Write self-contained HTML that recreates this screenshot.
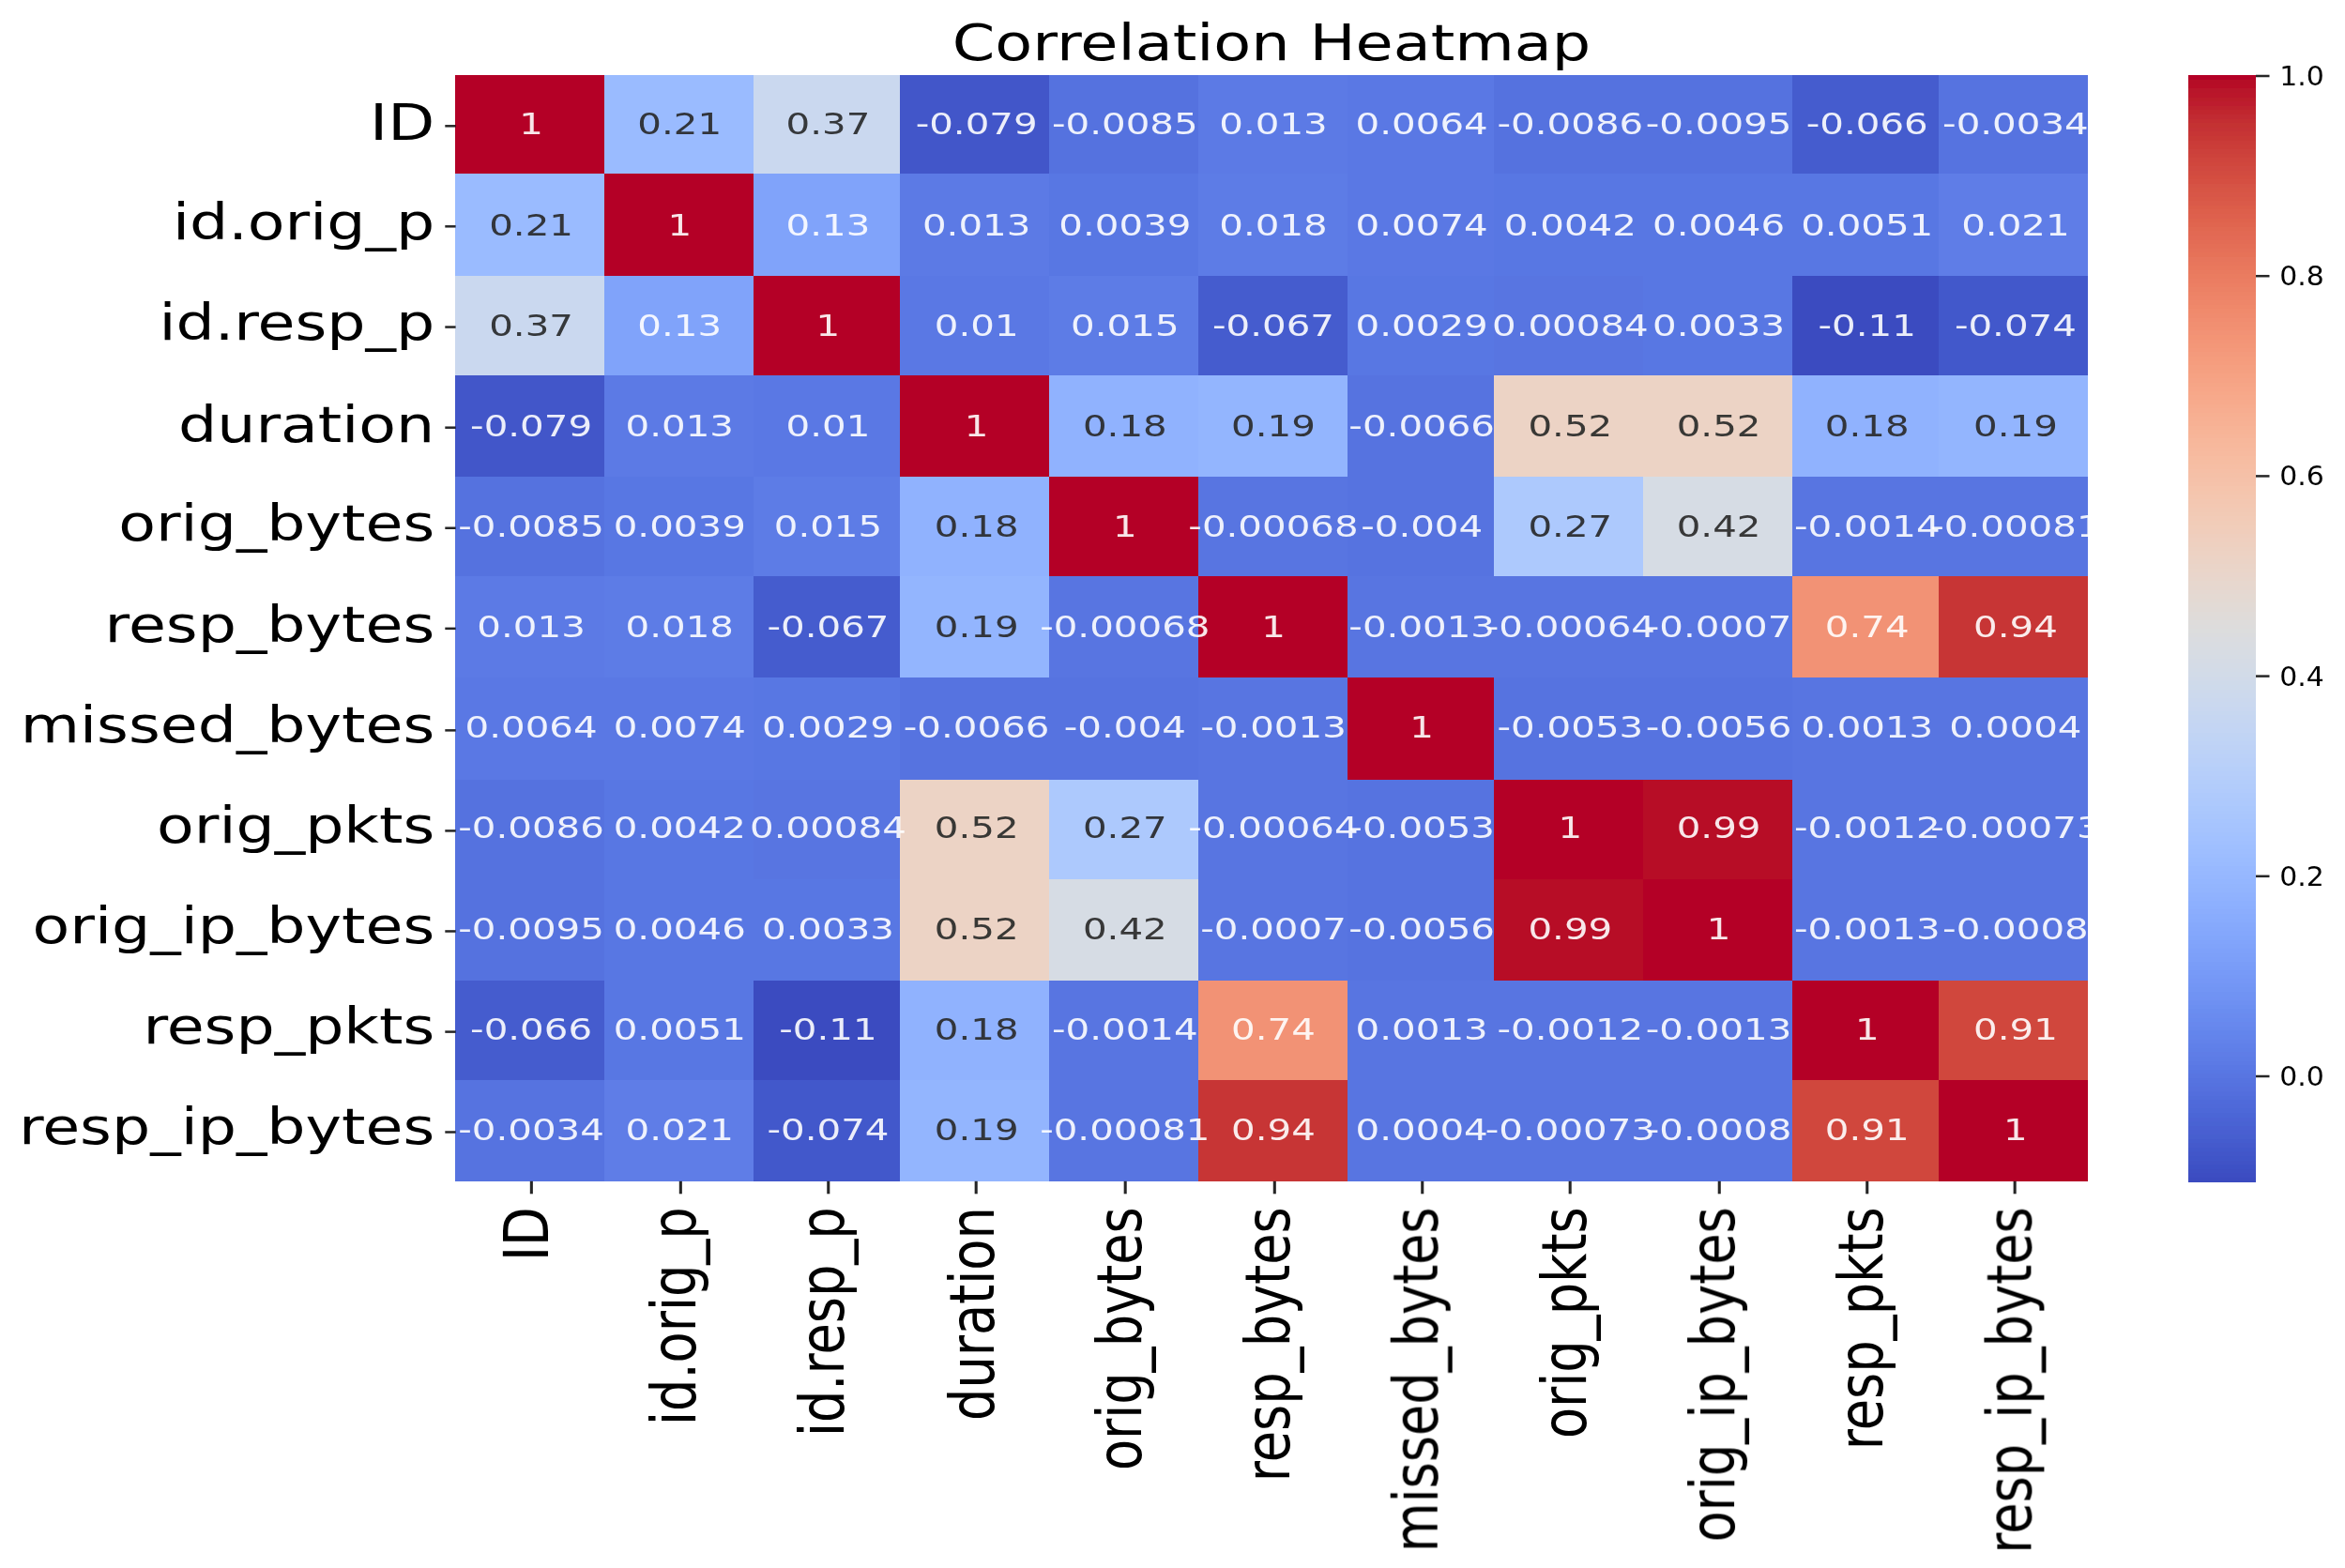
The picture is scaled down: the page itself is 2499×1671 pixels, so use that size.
<!DOCTYPE html>
<html><head><meta charset="utf-8"><title>Correlation Heatmap</title><style>html,body{margin:0;padding:0;background:#fff;overflow:hidden;}svg{display:block;}</style></head><body>
<svg width="2499" height="1671" viewBox="0 0 2499 1671" font-family="'DejaVu Sans', 'Liberation Sans', sans-serif">
<rect width="2499" height="1671" fill="#fff"/>
<defs><filter id="b" x="0" y="0" width="2499" height="1671" filterUnits="userSpaceOnUse"><feGaussianBlur stdDeviation="0.57 0.50"/></filter></defs>
<g filter="url(#b)">
<rect width="2499" height="1671" fill="#fff"/>
<g shape-rendering="crispEdges">
<rect x="485.10" y="79.90" width="159.70" height="106.00" fill="#b40426"/>
<rect x="644.20" y="79.90" width="159.45" height="106.00" fill="#9abbff"/>
<rect x="803.05" y="79.90" width="156.65" height="106.00" fill="#cad8ef"/>
<rect x="959.10" y="79.90" width="159.40" height="106.00" fill="#4257c9"/>
<rect x="1117.90" y="79.90" width="159.80" height="106.00" fill="#5572df"/>
<rect x="1277.10" y="79.90" width="159.60" height="106.00" fill="#5b7ae5"/>
<rect x="1436.10" y="79.90" width="156.50" height="106.00" fill="#5a78e4"/>
<rect x="1592.00" y="79.90" width="159.60" height="106.00" fill="#5572df"/>
<rect x="1751.00" y="79.90" width="159.70" height="106.00" fill="#5572df"/>
<rect x="1910.10" y="79.90" width="156.50" height="106.00" fill="#455cce"/>
<rect x="2066.00" y="79.90" width="158.90" height="106.00" fill="#5673e0"/>
<rect x="485.10" y="185.30" width="159.70" height="109.20" fill="#9abbff"/>
<rect x="644.20" y="185.30" width="159.45" height="109.20" fill="#b40426"/>
<rect x="803.05" y="185.30" width="156.65" height="109.20" fill="#80a3fa"/>
<rect x="959.10" y="185.30" width="159.40" height="109.20" fill="#5b7ae5"/>
<rect x="1117.90" y="185.30" width="159.80" height="109.20" fill="#5977e3"/>
<rect x="1277.10" y="185.30" width="159.60" height="109.20" fill="#5d7ce6"/>
<rect x="1436.10" y="185.30" width="156.50" height="109.20" fill="#5a78e4"/>
<rect x="1592.00" y="185.30" width="159.60" height="109.20" fill="#5977e3"/>
<rect x="1751.00" y="185.30" width="159.70" height="109.20" fill="#5977e3"/>
<rect x="1910.10" y="185.30" width="156.50" height="109.20" fill="#5977e3"/>
<rect x="2066.00" y="185.30" width="158.90" height="109.20" fill="#5e7de7"/>
<rect x="485.10" y="293.90" width="159.70" height="106.50" fill="#cad8ef"/>
<rect x="644.20" y="293.90" width="159.45" height="106.50" fill="#80a3fa"/>
<rect x="803.05" y="293.90" width="156.65" height="106.50" fill="#b40426"/>
<rect x="959.10" y="293.90" width="159.40" height="106.50" fill="#5a78e4"/>
<rect x="1117.90" y="293.90" width="159.80" height="106.50" fill="#5d7ce6"/>
<rect x="1277.10" y="293.90" width="159.60" height="106.50" fill="#455cce"/>
<rect x="1436.10" y="293.90" width="156.50" height="106.50" fill="#5977e3"/>
<rect x="1592.00" y="293.90" width="159.60" height="106.50" fill="#5875e1"/>
<rect x="1751.00" y="293.90" width="159.70" height="106.50" fill="#5977e3"/>
<rect x="1910.10" y="293.90" width="156.50" height="106.50" fill="#3b4cc0"/>
<rect x="2066.00" y="293.90" width="158.90" height="106.50" fill="#4358cb"/>
<rect x="485.10" y="399.80" width="159.70" height="109.00" fill="#4257c9"/>
<rect x="644.20" y="399.80" width="159.45" height="109.00" fill="#5b7ae5"/>
<rect x="803.05" y="399.80" width="156.65" height="109.00" fill="#5a78e4"/>
<rect x="959.10" y="399.80" width="159.40" height="109.00" fill="#b40426"/>
<rect x="1117.90" y="399.80" width="159.80" height="109.00" fill="#90b2fe"/>
<rect x="1277.10" y="399.80" width="159.60" height="109.00" fill="#93b5fe"/>
<rect x="1436.10" y="399.80" width="156.50" height="109.00" fill="#5673e0"/>
<rect x="1592.00" y="399.80" width="159.60" height="109.00" fill="#ecd3c5"/>
<rect x="1751.00" y="399.80" width="159.70" height="109.00" fill="#ecd3c5"/>
<rect x="1910.10" y="399.80" width="156.50" height="109.00" fill="#90b2fe"/>
<rect x="2066.00" y="399.80" width="158.90" height="109.00" fill="#93b5fe"/>
<rect x="485.10" y="508.20" width="159.70" height="106.30" fill="#5572df"/>
<rect x="644.20" y="508.20" width="159.45" height="106.30" fill="#5977e3"/>
<rect x="803.05" y="508.20" width="156.65" height="106.30" fill="#5d7ce6"/>
<rect x="959.10" y="508.20" width="159.40" height="106.30" fill="#90b2fe"/>
<rect x="1117.90" y="508.20" width="159.80" height="106.30" fill="#b40426"/>
<rect x="1277.10" y="508.20" width="159.60" height="106.30" fill="#5875e1"/>
<rect x="1436.10" y="508.20" width="156.50" height="106.30" fill="#5673e0"/>
<rect x="1592.00" y="508.20" width="159.60" height="106.30" fill="#adc9fd"/>
<rect x="1751.00" y="508.20" width="159.70" height="106.30" fill="#d6dce4"/>
<rect x="1910.10" y="508.20" width="156.50" height="106.30" fill="#5875e1"/>
<rect x="2066.00" y="508.20" width="158.90" height="106.30" fill="#5875e1"/>
<rect x="485.10" y="613.90" width="159.70" height="109.10" fill="#5b7ae5"/>
<rect x="644.20" y="613.90" width="159.45" height="109.10" fill="#5d7ce6"/>
<rect x="803.05" y="613.90" width="156.65" height="109.10" fill="#455cce"/>
<rect x="959.10" y="613.90" width="159.40" height="109.10" fill="#93b5fe"/>
<rect x="1117.90" y="613.90" width="159.80" height="109.10" fill="#5875e1"/>
<rect x="1277.10" y="613.90" width="159.60" height="109.10" fill="#b40426"/>
<rect x="1436.10" y="613.90" width="156.50" height="109.10" fill="#5875e1"/>
<rect x="1592.00" y="613.90" width="159.60" height="109.10" fill="#5875e1"/>
<rect x="1751.00" y="613.90" width="159.70" height="109.10" fill="#5875e1"/>
<rect x="1910.10" y="613.90" width="156.50" height="109.10" fill="#f29274"/>
<rect x="2066.00" y="613.90" width="158.90" height="109.10" fill="#c73635"/>
<rect x="485.10" y="722.40" width="159.70" height="109.10" fill="#5a78e4"/>
<rect x="644.20" y="722.40" width="159.45" height="109.10" fill="#5a78e4"/>
<rect x="803.05" y="722.40" width="156.65" height="109.10" fill="#5977e3"/>
<rect x="959.10" y="722.40" width="159.40" height="109.10" fill="#5673e0"/>
<rect x="1117.90" y="722.40" width="159.80" height="109.10" fill="#5673e0"/>
<rect x="1277.10" y="722.40" width="159.60" height="109.10" fill="#5875e1"/>
<rect x="1436.10" y="722.40" width="156.50" height="109.10" fill="#b40426"/>
<rect x="1592.00" y="722.40" width="159.60" height="109.10" fill="#5673e0"/>
<rect x="1751.00" y="722.40" width="159.70" height="109.10" fill="#5673e0"/>
<rect x="1910.10" y="722.40" width="156.50" height="109.10" fill="#5875e1"/>
<rect x="2066.00" y="722.40" width="158.90" height="109.10" fill="#5875e1"/>
<rect x="485.10" y="830.90" width="159.70" height="106.20" fill="#5572df"/>
<rect x="644.20" y="830.90" width="159.45" height="106.20" fill="#5977e3"/>
<rect x="803.05" y="830.90" width="156.65" height="106.20" fill="#5875e1"/>
<rect x="959.10" y="830.90" width="159.40" height="106.20" fill="#ecd3c5"/>
<rect x="1117.90" y="830.90" width="159.80" height="106.20" fill="#adc9fd"/>
<rect x="1277.10" y="830.90" width="159.60" height="106.20" fill="#5875e1"/>
<rect x="1436.10" y="830.90" width="156.50" height="106.20" fill="#5673e0"/>
<rect x="1592.00" y="830.90" width="159.60" height="106.20" fill="#b40426"/>
<rect x="1751.00" y="830.90" width="159.70" height="106.20" fill="#b70d28"/>
<rect x="1910.10" y="830.90" width="156.50" height="106.20" fill="#5875e1"/>
<rect x="2066.00" y="830.90" width="158.90" height="106.20" fill="#5875e1"/>
<rect x="485.10" y="936.50" width="159.70" height="109.10" fill="#5572df"/>
<rect x="644.20" y="936.50" width="159.45" height="109.10" fill="#5977e3"/>
<rect x="803.05" y="936.50" width="156.65" height="109.10" fill="#5977e3"/>
<rect x="959.10" y="936.50" width="159.40" height="109.10" fill="#ecd3c5"/>
<rect x="1117.90" y="936.50" width="159.80" height="109.10" fill="#d6dce4"/>
<rect x="1277.10" y="936.50" width="159.60" height="109.10" fill="#5875e1"/>
<rect x="1436.10" y="936.50" width="156.50" height="109.10" fill="#5673e0"/>
<rect x="1592.00" y="936.50" width="159.60" height="109.10" fill="#b70d28"/>
<rect x="1751.00" y="936.50" width="159.70" height="109.10" fill="#b40426"/>
<rect x="1910.10" y="936.50" width="156.50" height="109.10" fill="#5875e1"/>
<rect x="2066.00" y="936.50" width="158.90" height="109.10" fill="#5875e1"/>
<rect x="485.10" y="1045.00" width="159.70" height="106.40" fill="#455cce"/>
<rect x="644.20" y="1045.00" width="159.45" height="106.40" fill="#5977e3"/>
<rect x="803.05" y="1045.00" width="156.65" height="106.40" fill="#3b4cc0"/>
<rect x="959.10" y="1045.00" width="159.40" height="106.40" fill="#90b2fe"/>
<rect x="1117.90" y="1045.00" width="159.80" height="106.40" fill="#5875e1"/>
<rect x="1277.10" y="1045.00" width="159.60" height="106.40" fill="#f29274"/>
<rect x="1436.10" y="1045.00" width="156.50" height="106.40" fill="#5875e1"/>
<rect x="1592.00" y="1045.00" width="159.60" height="106.40" fill="#5875e1"/>
<rect x="1751.00" y="1045.00" width="159.70" height="106.40" fill="#5875e1"/>
<rect x="1910.10" y="1045.00" width="156.50" height="106.40" fill="#b40426"/>
<rect x="2066.00" y="1045.00" width="158.90" height="106.40" fill="#d0473d"/>
<rect x="485.10" y="1150.80" width="159.70" height="108.00" fill="#5673e0"/>
<rect x="644.20" y="1150.80" width="159.45" height="108.00" fill="#5e7de7"/>
<rect x="803.05" y="1150.80" width="156.65" height="108.00" fill="#4358cb"/>
<rect x="959.10" y="1150.80" width="159.40" height="108.00" fill="#93b5fe"/>
<rect x="1117.90" y="1150.80" width="159.80" height="108.00" fill="#5875e1"/>
<rect x="1277.10" y="1150.80" width="159.60" height="108.00" fill="#c73635"/>
<rect x="1436.10" y="1150.80" width="156.50" height="108.00" fill="#5875e1"/>
<rect x="1592.00" y="1150.80" width="159.60" height="108.00" fill="#5875e1"/>
<rect x="1751.00" y="1150.80" width="159.70" height="108.00" fill="#5875e1"/>
<rect x="1910.10" y="1150.80" width="156.50" height="108.00" fill="#d0473d"/>
<rect x="2066.00" y="1150.80" width="158.90" height="108.00" fill="#b40426"/>
</g>
<g shape-rendering="crispEdges">
<rect x="2332.20" y="1254.39" width="71.80" height="5.21" fill="#3b4cc0"/>
<rect x="2332.20" y="1249.79" width="71.80" height="5.21" fill="#3c4ec2"/>
<rect x="2332.20" y="1245.18" width="71.80" height="5.21" fill="#3d50c3"/>
<rect x="2332.20" y="1240.58" width="71.80" height="5.21" fill="#3e51c5"/>
<rect x="2332.20" y="1235.97" width="71.80" height="5.21" fill="#3f53c6"/>
<rect x="2332.20" y="1231.37" width="71.80" height="5.21" fill="#4055c8"/>
<rect x="2332.20" y="1226.76" width="71.80" height="5.21" fill="#4257c9"/>
<rect x="2332.20" y="1222.16" width="71.80" height="5.21" fill="#4358cb"/>
<rect x="2332.20" y="1217.55" width="71.80" height="5.21" fill="#445acc"/>
<rect x="2332.20" y="1212.95" width="71.80" height="5.21" fill="#455cce"/>
<rect x="2332.20" y="1208.34" width="71.80" height="5.21" fill="#465ecf"/>
<rect x="2332.20" y="1203.73" width="71.80" height="5.21" fill="#485fd1"/>
<rect x="2332.20" y="1199.13" width="71.80" height="5.21" fill="#4961d2"/>
<rect x="2332.20" y="1194.52" width="71.80" height="5.21" fill="#4a63d3"/>
<rect x="2332.20" y="1189.92" width="71.80" height="5.21" fill="#4b64d5"/>
<rect x="2332.20" y="1185.31" width="71.80" height="5.21" fill="#4c66d6"/>
<rect x="2332.20" y="1180.71" width="71.80" height="5.21" fill="#4e68d8"/>
<rect x="2332.20" y="1176.10" width="71.80" height="5.21" fill="#4f69d9"/>
<rect x="2332.20" y="1171.50" width="71.80" height="5.21" fill="#506bda"/>
<rect x="2332.20" y="1166.89" width="71.80" height="5.21" fill="#516ddb"/>
<rect x="2332.20" y="1162.29" width="71.80" height="5.21" fill="#536edd"/>
<rect x="2332.20" y="1157.68" width="71.80" height="5.21" fill="#5470de"/>
<rect x="2332.20" y="1153.07" width="71.80" height="5.21" fill="#5572df"/>
<rect x="2332.20" y="1148.47" width="71.80" height="5.21" fill="#5673e0"/>
<rect x="2332.20" y="1143.86" width="71.80" height="5.21" fill="#5875e1"/>
<rect x="2332.20" y="1139.26" width="71.80" height="5.21" fill="#5977e3"/>
<rect x="2332.20" y="1134.65" width="71.80" height="5.21" fill="#5a78e4"/>
<rect x="2332.20" y="1130.05" width="71.80" height="5.21" fill="#5b7ae5"/>
<rect x="2332.20" y="1125.44" width="71.80" height="5.21" fill="#5d7ce6"/>
<rect x="2332.20" y="1120.84" width="71.80" height="5.21" fill="#5e7de7"/>
<rect x="2332.20" y="1116.23" width="71.80" height="5.21" fill="#5f7fe8"/>
<rect x="2332.20" y="1111.62" width="71.80" height="5.21" fill="#6180e9"/>
<rect x="2332.20" y="1107.02" width="71.80" height="5.21" fill="#6282ea"/>
<rect x="2332.20" y="1102.41" width="71.80" height="5.21" fill="#6384eb"/>
<rect x="2332.20" y="1097.81" width="71.80" height="5.21" fill="#6485ec"/>
<rect x="2332.20" y="1093.20" width="71.80" height="5.21" fill="#6687ed"/>
<rect x="2332.20" y="1088.60" width="71.80" height="5.21" fill="#6788ee"/>
<rect x="2332.20" y="1083.99" width="71.80" height="5.21" fill="#688aef"/>
<rect x="2332.20" y="1079.39" width="71.80" height="5.21" fill="#6a8bef"/>
<rect x="2332.20" y="1074.78" width="71.80" height="5.21" fill="#6b8df0"/>
<rect x="2332.20" y="1070.18" width="71.80" height="5.21" fill="#6c8ff1"/>
<rect x="2332.20" y="1065.57" width="71.80" height="5.21" fill="#6e90f2"/>
<rect x="2332.20" y="1060.96" width="71.80" height="5.21" fill="#6f92f3"/>
<rect x="2332.20" y="1056.36" width="71.80" height="5.21" fill="#7093f3"/>
<rect x="2332.20" y="1051.75" width="71.80" height="5.21" fill="#7295f4"/>
<rect x="2332.20" y="1047.15" width="71.80" height="5.21" fill="#7396f5"/>
<rect x="2332.20" y="1042.54" width="71.80" height="5.21" fill="#7597f6"/>
<rect x="2332.20" y="1037.94" width="71.80" height="5.21" fill="#7699f6"/>
<rect x="2332.20" y="1033.33" width="71.80" height="5.21" fill="#779af7"/>
<rect x="2332.20" y="1028.73" width="71.80" height="5.21" fill="#799cf8"/>
<rect x="2332.20" y="1024.12" width="71.80" height="5.21" fill="#7a9df8"/>
<rect x="2332.20" y="1019.52" width="71.80" height="5.21" fill="#7b9ff9"/>
<rect x="2332.20" y="1014.91" width="71.80" height="5.21" fill="#7da0f9"/>
<rect x="2332.20" y="1010.30" width="71.80" height="5.21" fill="#7ea1fa"/>
<rect x="2332.20" y="1005.70" width="71.80" height="5.21" fill="#80a3fa"/>
<rect x="2332.20" y="1001.09" width="71.80" height="5.21" fill="#81a4fb"/>
<rect x="2332.20" y="996.49" width="71.80" height="5.21" fill="#82a6fb"/>
<rect x="2332.20" y="991.88" width="71.80" height="5.21" fill="#84a7fc"/>
<rect x="2332.20" y="987.28" width="71.80" height="5.21" fill="#85a8fc"/>
<rect x="2332.20" y="982.67" width="71.80" height="5.21" fill="#86a9fc"/>
<rect x="2332.20" y="978.07" width="71.80" height="5.21" fill="#88abfd"/>
<rect x="2332.20" y="973.46" width="71.80" height="5.21" fill="#89acfd"/>
<rect x="2332.20" y="968.86" width="71.80" height="5.21" fill="#8badfd"/>
<rect x="2332.20" y="964.25" width="71.80" height="5.21" fill="#8caffe"/>
<rect x="2332.20" y="959.64" width="71.80" height="5.21" fill="#8db0fe"/>
<rect x="2332.20" y="955.04" width="71.80" height="5.21" fill="#8fb1fe"/>
<rect x="2332.20" y="950.43" width="71.80" height="5.21" fill="#90b2fe"/>
<rect x="2332.20" y="945.83" width="71.80" height="5.21" fill="#92b4fe"/>
<rect x="2332.20" y="941.22" width="71.80" height="5.21" fill="#93b5fe"/>
<rect x="2332.20" y="936.62" width="71.80" height="5.21" fill="#94b6ff"/>
<rect x="2332.20" y="932.01" width="71.80" height="5.21" fill="#96b7ff"/>
<rect x="2332.20" y="927.41" width="71.80" height="5.21" fill="#97b8ff"/>
<rect x="2332.20" y="922.80" width="71.80" height="5.21" fill="#98b9ff"/>
<rect x="2332.20" y="918.20" width="71.80" height="5.21" fill="#9abbff"/>
<rect x="2332.20" y="913.59" width="71.80" height="5.21" fill="#9bbcff"/>
<rect x="2332.20" y="908.98" width="71.80" height="5.21" fill="#9dbdff"/>
<rect x="2332.20" y="904.38" width="71.80" height="5.21" fill="#9ebeff"/>
<rect x="2332.20" y="899.77" width="71.80" height="5.21" fill="#9fbfff"/>
<rect x="2332.20" y="895.17" width="71.80" height="5.21" fill="#a1c0ff"/>
<rect x="2332.20" y="890.56" width="71.80" height="5.21" fill="#a2c1ff"/>
<rect x="2332.20" y="885.96" width="71.80" height="5.21" fill="#a3c2fe"/>
<rect x="2332.20" y="881.35" width="71.80" height="5.21" fill="#a5c3fe"/>
<rect x="2332.20" y="876.75" width="71.80" height="5.21" fill="#a6c4fe"/>
<rect x="2332.20" y="872.14" width="71.80" height="5.21" fill="#a7c5fe"/>
<rect x="2332.20" y="867.54" width="71.80" height="5.21" fill="#a9c6fd"/>
<rect x="2332.20" y="862.93" width="71.80" height="5.21" fill="#aac7fd"/>
<rect x="2332.20" y="858.32" width="71.80" height="5.21" fill="#abc8fd"/>
<rect x="2332.20" y="853.72" width="71.80" height="5.21" fill="#adc9fd"/>
<rect x="2332.20" y="849.11" width="71.80" height="5.21" fill="#aec9fc"/>
<rect x="2332.20" y="844.51" width="71.80" height="5.21" fill="#afcafc"/>
<rect x="2332.20" y="839.90" width="71.80" height="5.21" fill="#b1cbfc"/>
<rect x="2332.20" y="835.30" width="71.80" height="5.21" fill="#b2ccfb"/>
<rect x="2332.20" y="830.69" width="71.80" height="5.21" fill="#b3cdfb"/>
<rect x="2332.20" y="826.09" width="71.80" height="5.21" fill="#b5cdfa"/>
<rect x="2332.20" y="821.48" width="71.80" height="5.21" fill="#b6cefa"/>
<rect x="2332.20" y="816.88" width="71.80" height="5.21" fill="#b7cff9"/>
<rect x="2332.20" y="812.27" width="71.80" height="5.21" fill="#b9d0f9"/>
<rect x="2332.20" y="807.66" width="71.80" height="5.21" fill="#bad0f8"/>
<rect x="2332.20" y="803.06" width="71.80" height="5.21" fill="#bbd1f8"/>
<rect x="2332.20" y="798.45" width="71.80" height="5.21" fill="#bcd2f7"/>
<rect x="2332.20" y="793.85" width="71.80" height="5.21" fill="#bed2f6"/>
<rect x="2332.20" y="789.24" width="71.80" height="5.21" fill="#bfd3f6"/>
<rect x="2332.20" y="784.64" width="71.80" height="5.21" fill="#c0d4f5"/>
<rect x="2332.20" y="780.03" width="71.80" height="5.21" fill="#c1d4f4"/>
<rect x="2332.20" y="775.43" width="71.80" height="5.21" fill="#c3d5f4"/>
<rect x="2332.20" y="770.82" width="71.80" height="5.21" fill="#c4d5f3"/>
<rect x="2332.20" y="766.21" width="71.80" height="5.21" fill="#c5d6f2"/>
<rect x="2332.20" y="761.61" width="71.80" height="5.21" fill="#c6d6f1"/>
<rect x="2332.20" y="757.00" width="71.80" height="5.21" fill="#c7d7f0"/>
<rect x="2332.20" y="752.40" width="71.80" height="5.21" fill="#c9d7f0"/>
<rect x="2332.20" y="747.79" width="71.80" height="5.21" fill="#cad8ef"/>
<rect x="2332.20" y="743.19" width="71.80" height="5.21" fill="#cbd8ee"/>
<rect x="2332.20" y="738.58" width="71.80" height="5.21" fill="#ccd9ed"/>
<rect x="2332.20" y="733.98" width="71.80" height="5.21" fill="#cdd9ec"/>
<rect x="2332.20" y="729.37" width="71.80" height="5.21" fill="#cedaeb"/>
<rect x="2332.20" y="724.77" width="71.80" height="5.21" fill="#cfdaea"/>
<rect x="2332.20" y="720.16" width="71.80" height="5.21" fill="#d1dae9"/>
<rect x="2332.20" y="715.55" width="71.80" height="5.21" fill="#d2dbe8"/>
<rect x="2332.20" y="710.95" width="71.80" height="5.21" fill="#d3dbe7"/>
<rect x="2332.20" y="706.34" width="71.80" height="5.21" fill="#d4dbe6"/>
<rect x="2332.20" y="701.74" width="71.80" height="5.21" fill="#d5dbe5"/>
<rect x="2332.20" y="697.13" width="71.80" height="5.21" fill="#d6dce4"/>
<rect x="2332.20" y="692.53" width="71.80" height="5.21" fill="#d7dce3"/>
<rect x="2332.20" y="687.92" width="71.80" height="5.21" fill="#d8dce2"/>
<rect x="2332.20" y="683.32" width="71.80" height="5.21" fill="#d9dce1"/>
<rect x="2332.20" y="678.71" width="71.80" height="5.21" fill="#dadce0"/>
<rect x="2332.20" y="674.11" width="71.80" height="5.21" fill="#dbdcde"/>
<rect x="2332.20" y="669.50" width="71.80" height="5.21" fill="#dcdddd"/>
<rect x="2332.20" y="664.89" width="71.80" height="5.21" fill="#dddcdc"/>
<rect x="2332.20" y="660.29" width="71.80" height="5.21" fill="#dedcdb"/>
<rect x="2332.20" y="655.68" width="71.80" height="5.21" fill="#dfdbd9"/>
<rect x="2332.20" y="651.08" width="71.80" height="5.21" fill="#e0dbd8"/>
<rect x="2332.20" y="646.47" width="71.80" height="5.21" fill="#e1dad6"/>
<rect x="2332.20" y="641.87" width="71.80" height="5.21" fill="#e2dad5"/>
<rect x="2332.20" y="637.26" width="71.80" height="5.21" fill="#e3d9d3"/>
<rect x="2332.20" y="632.66" width="71.80" height="5.21" fill="#e4d9d2"/>
<rect x="2332.20" y="628.05" width="71.80" height="5.21" fill="#e5d8d1"/>
<rect x="2332.20" y="623.45" width="71.80" height="5.21" fill="#e6d7cf"/>
<rect x="2332.20" y="618.84" width="71.80" height="5.21" fill="#e7d7ce"/>
<rect x="2332.20" y="614.23" width="71.80" height="5.21" fill="#e8d6cc"/>
<rect x="2332.20" y="609.63" width="71.80" height="5.21" fill="#e9d5cb"/>
<rect x="2332.20" y="605.02" width="71.80" height="5.21" fill="#ead5c9"/>
<rect x="2332.20" y="600.42" width="71.80" height="5.21" fill="#ead4c8"/>
<rect x="2332.20" y="595.81" width="71.80" height="5.21" fill="#ebd3c6"/>
<rect x="2332.20" y="591.21" width="71.80" height="5.21" fill="#ecd3c5"/>
<rect x="2332.20" y="586.60" width="71.80" height="5.21" fill="#edd2c3"/>
<rect x="2332.20" y="582.00" width="71.80" height="5.21" fill="#edd1c2"/>
<rect x="2332.20" y="577.39" width="71.80" height="5.21" fill="#eed0c0"/>
<rect x="2332.20" y="572.79" width="71.80" height="5.21" fill="#efcfbf"/>
<rect x="2332.20" y="568.18" width="71.80" height="5.21" fill="#efcebd"/>
<rect x="2332.20" y="563.57" width="71.80" height="5.21" fill="#f0cdbb"/>
<rect x="2332.20" y="558.97" width="71.80" height="5.21" fill="#f1cdba"/>
<rect x="2332.20" y="554.36" width="71.80" height="5.21" fill="#f1ccb8"/>
<rect x="2332.20" y="549.76" width="71.80" height="5.21" fill="#f2cbb7"/>
<rect x="2332.20" y="545.15" width="71.80" height="5.21" fill="#f2cab5"/>
<rect x="2332.20" y="540.55" width="71.80" height="5.21" fill="#f2c9b4"/>
<rect x="2332.20" y="535.94" width="71.80" height="5.21" fill="#f3c8b2"/>
<rect x="2332.20" y="531.34" width="71.80" height="5.21" fill="#f3c7b1"/>
<rect x="2332.20" y="526.73" width="71.80" height="5.21" fill="#f4c6af"/>
<rect x="2332.20" y="522.12" width="71.80" height="5.21" fill="#f4c5ad"/>
<rect x="2332.20" y="517.52" width="71.80" height="5.21" fill="#f5c4ac"/>
<rect x="2332.20" y="512.91" width="71.80" height="5.21" fill="#f5c2aa"/>
<rect x="2332.20" y="508.31" width="71.80" height="5.21" fill="#f5c1a9"/>
<rect x="2332.20" y="503.70" width="71.80" height="5.21" fill="#f5c0a7"/>
<rect x="2332.20" y="499.10" width="71.80" height="5.21" fill="#f6bfa6"/>
<rect x="2332.20" y="494.49" width="71.80" height="5.21" fill="#f6bea4"/>
<rect x="2332.20" y="489.89" width="71.80" height="5.21" fill="#f6bda2"/>
<rect x="2332.20" y="485.28" width="71.80" height="5.21" fill="#f7bca1"/>
<rect x="2332.20" y="480.68" width="71.80" height="5.21" fill="#f7ba9f"/>
<rect x="2332.20" y="476.07" width="71.80" height="5.21" fill="#f7b99e"/>
<rect x="2332.20" y="471.46" width="71.80" height="5.21" fill="#f7b89c"/>
<rect x="2332.20" y="466.86" width="71.80" height="5.21" fill="#f7b79b"/>
<rect x="2332.20" y="462.25" width="71.80" height="5.21" fill="#f7b599"/>
<rect x="2332.20" y="457.65" width="71.80" height="5.21" fill="#f7b497"/>
<rect x="2332.20" y="453.04" width="71.80" height="5.21" fill="#f7b396"/>
<rect x="2332.20" y="448.44" width="71.80" height="5.21" fill="#f7b194"/>
<rect x="2332.20" y="443.83" width="71.80" height="5.21" fill="#f7b093"/>
<rect x="2332.20" y="439.23" width="71.80" height="5.21" fill="#f7af91"/>
<rect x="2332.20" y="434.62" width="71.80" height="5.21" fill="#f7ad90"/>
<rect x="2332.20" y="430.02" width="71.80" height="5.21" fill="#f7ac8e"/>
<rect x="2332.20" y="425.41" width="71.80" height="5.21" fill="#f7aa8c"/>
<rect x="2332.20" y="420.80" width="71.80" height="5.21" fill="#f7a98b"/>
<rect x="2332.20" y="416.20" width="71.80" height="5.21" fill="#f7a889"/>
<rect x="2332.20" y="411.59" width="71.80" height="5.21" fill="#f7a688"/>
<rect x="2332.20" y="406.99" width="71.80" height="5.21" fill="#f6a586"/>
<rect x="2332.20" y="402.38" width="71.80" height="5.21" fill="#f6a385"/>
<rect x="2332.20" y="397.78" width="71.80" height="5.21" fill="#f6a283"/>
<rect x="2332.20" y="393.17" width="71.80" height="5.21" fill="#f5a081"/>
<rect x="2332.20" y="388.57" width="71.80" height="5.21" fill="#f59f80"/>
<rect x="2332.20" y="383.96" width="71.80" height="5.21" fill="#f59d7e"/>
<rect x="2332.20" y="379.36" width="71.80" height="5.21" fill="#f59c7d"/>
<rect x="2332.20" y="374.75" width="71.80" height="5.21" fill="#f49a7b"/>
<rect x="2332.20" y="370.14" width="71.80" height="5.21" fill="#f4987a"/>
<rect x="2332.20" y="365.54" width="71.80" height="5.21" fill="#f39778"/>
<rect x="2332.20" y="360.93" width="71.80" height="5.21" fill="#f39577"/>
<rect x="2332.20" y="356.33" width="71.80" height="5.21" fill="#f39475"/>
<rect x="2332.20" y="351.72" width="71.80" height="5.21" fill="#f29274"/>
<rect x="2332.20" y="347.12" width="71.80" height="5.21" fill="#f29072"/>
<rect x="2332.20" y="342.51" width="71.80" height="5.21" fill="#f18f71"/>
<rect x="2332.20" y="337.91" width="71.80" height="5.21" fill="#f18d6f"/>
<rect x="2332.20" y="333.30" width="71.80" height="5.21" fill="#f08b6e"/>
<rect x="2332.20" y="328.70" width="71.80" height="5.21" fill="#f08a6c"/>
<rect x="2332.20" y="324.09" width="71.80" height="5.21" fill="#ef886b"/>
<rect x="2332.20" y="319.48" width="71.80" height="5.21" fill="#ee8669"/>
<rect x="2332.20" y="314.88" width="71.80" height="5.21" fill="#ee8468"/>
<rect x="2332.20" y="310.27" width="71.80" height="5.21" fill="#ed8366"/>
<rect x="2332.20" y="305.67" width="71.80" height="5.21" fill="#ec8165"/>
<rect x="2332.20" y="301.06" width="71.80" height="5.21" fill="#ec7f63"/>
<rect x="2332.20" y="296.46" width="71.80" height="5.21" fill="#eb7d62"/>
<rect x="2332.20" y="291.85" width="71.80" height="5.21" fill="#ea7b60"/>
<rect x="2332.20" y="287.25" width="71.80" height="5.21" fill="#e97a5f"/>
<rect x="2332.20" y="282.64" width="71.80" height="5.21" fill="#e9785d"/>
<rect x="2332.20" y="278.04" width="71.80" height="5.21" fill="#e8765c"/>
<rect x="2332.20" y="273.43" width="71.80" height="5.21" fill="#e7745b"/>
<rect x="2332.20" y="268.82" width="71.80" height="5.21" fill="#e67259"/>
<rect x="2332.20" y="264.22" width="71.80" height="5.21" fill="#e57058"/>
<rect x="2332.20" y="259.61" width="71.80" height="5.21" fill="#e46e56"/>
<rect x="2332.20" y="255.01" width="71.80" height="5.21" fill="#e36c55"/>
<rect x="2332.20" y="250.40" width="71.80" height="5.21" fill="#e36b54"/>
<rect x="2332.20" y="245.80" width="71.80" height="5.21" fill="#e26952"/>
<rect x="2332.20" y="241.19" width="71.80" height="5.21" fill="#e16751"/>
<rect x="2332.20" y="236.59" width="71.80" height="5.21" fill="#e0654f"/>
<rect x="2332.20" y="231.98" width="71.80" height="5.21" fill="#df634e"/>
<rect x="2332.20" y="227.38" width="71.80" height="5.21" fill="#de614d"/>
<rect x="2332.20" y="222.77" width="71.80" height="5.21" fill="#dd5f4b"/>
<rect x="2332.20" y="218.16" width="71.80" height="5.21" fill="#dc5d4a"/>
<rect x="2332.20" y="213.56" width="71.80" height="5.21" fill="#da5a49"/>
<rect x="2332.20" y="208.95" width="71.80" height="5.21" fill="#d95847"/>
<rect x="2332.20" y="204.35" width="71.80" height="5.21" fill="#d85646"/>
<rect x="2332.20" y="199.74" width="71.80" height="5.21" fill="#d75445"/>
<rect x="2332.20" y="195.14" width="71.80" height="5.21" fill="#d65244"/>
<rect x="2332.20" y="190.53" width="71.80" height="5.21" fill="#d55042"/>
<rect x="2332.20" y="185.93" width="71.80" height="5.21" fill="#d44e41"/>
<rect x="2332.20" y="181.32" width="71.80" height="5.21" fill="#d24b40"/>
<rect x="2332.20" y="176.71" width="71.80" height="5.21" fill="#d1493f"/>
<rect x="2332.20" y="172.11" width="71.80" height="5.21" fill="#d0473d"/>
<rect x="2332.20" y="167.50" width="71.80" height="5.21" fill="#cf453c"/>
<rect x="2332.20" y="162.90" width="71.80" height="5.21" fill="#cd423b"/>
<rect x="2332.20" y="158.29" width="71.80" height="5.21" fill="#cc403a"/>
<rect x="2332.20" y="153.69" width="71.80" height="5.21" fill="#cb3e38"/>
<rect x="2332.20" y="149.08" width="71.80" height="5.21" fill="#ca3b37"/>
<rect x="2332.20" y="144.48" width="71.80" height="5.21" fill="#c83836"/>
<rect x="2332.20" y="139.87" width="71.80" height="5.21" fill="#c73635"/>
<rect x="2332.20" y="135.27" width="71.80" height="5.21" fill="#c53334"/>
<rect x="2332.20" y="130.66" width="71.80" height="5.21" fill="#c43032"/>
<rect x="2332.20" y="126.05" width="71.80" height="5.21" fill="#c32e31"/>
<rect x="2332.20" y="121.45" width="71.80" height="5.21" fill="#c12b30"/>
<rect x="2332.20" y="116.84" width="71.80" height="5.21" fill="#c0282f"/>
<rect x="2332.20" y="112.24" width="71.80" height="5.21" fill="#be242e"/>
<rect x="2332.20" y="107.63" width="71.80" height="5.21" fill="#bd1f2d"/>
<rect x="2332.20" y="103.03" width="71.80" height="5.21" fill="#bb1b2c"/>
<rect x="2332.20" y="98.42" width="71.80" height="5.21" fill="#ba162b"/>
<rect x="2332.20" y="93.82" width="71.80" height="5.21" fill="#b8122a"/>
<rect x="2332.20" y="89.21" width="71.80" height="5.21" fill="#b70d28"/>
<rect x="2332.20" y="84.61" width="71.80" height="5.21" fill="#b50927"/>
<rect x="2332.20" y="80.00" width="71.80" height="5.21" fill="#b40426"/>
</g>
<g stroke="#000" stroke-opacity="0.85" fill="none">
<line x1="566.35" y1="1258.80" x2="566.35" y2="1272.30" stroke-width="3.09"/>
<line x1="725.33" y1="1258.80" x2="725.33" y2="1272.30" stroke-width="3.09"/>
<line x1="882.78" y1="1258.80" x2="882.78" y2="1272.30" stroke-width="3.09"/>
<line x1="1040.20" y1="1258.80" x2="1040.20" y2="1272.30" stroke-width="3.09"/>
<line x1="1199.20" y1="1258.80" x2="1199.20" y2="1272.30" stroke-width="3.09"/>
<line x1="1358.30" y1="1258.80" x2="1358.30" y2="1272.30" stroke-width="3.09"/>
<line x1="1515.75" y1="1258.80" x2="1515.75" y2="1272.30" stroke-width="3.09"/>
<line x1="1673.20" y1="1258.80" x2="1673.20" y2="1272.30" stroke-width="3.09"/>
<line x1="1832.25" y1="1258.80" x2="1832.25" y2="1272.30" stroke-width="3.09"/>
<line x1="1989.75" y1="1258.80" x2="1989.75" y2="1272.30" stroke-width="3.09"/>
<line x1="2147.15" y1="1258.80" x2="2147.15" y2="1272.30" stroke-width="3.09"/>
<line x1="474.30" y1="134.30" x2="485.60" y2="134.30" stroke-width="2.52"/>
<line x1="474.30" y1="241.30" x2="485.60" y2="241.30" stroke-width="2.52"/>
<line x1="474.30" y1="348.55" x2="485.60" y2="348.55" stroke-width="2.52"/>
<line x1="474.30" y1="455.70" x2="485.60" y2="455.70" stroke-width="2.52"/>
<line x1="474.30" y1="562.75" x2="485.60" y2="562.75" stroke-width="2.52"/>
<line x1="474.30" y1="669.85" x2="485.60" y2="669.85" stroke-width="2.52"/>
<line x1="474.30" y1="778.35" x2="485.60" y2="778.35" stroke-width="2.52"/>
<line x1="474.30" y1="885.40" x2="485.60" y2="885.40" stroke-width="2.52"/>
<line x1="474.30" y1="992.45" x2="485.60" y2="992.45" stroke-width="2.52"/>
<line x1="474.30" y1="1099.60" x2="485.60" y2="1099.60" stroke-width="2.52"/>
<line x1="474.30" y1="1206.50" x2="485.60" y2="1206.50" stroke-width="2.52"/>
<line x1="2404.00" y1="1147.00" x2="2418.50" y2="1147.00" stroke-width="2.52"/>
<line x1="2404.00" y1="933.80" x2="2418.50" y2="933.80" stroke-width="2.52"/>
<line x1="2404.00" y1="720.60" x2="2418.50" y2="720.60" stroke-width="2.52"/>
<line x1="2404.00" y1="507.40" x2="2418.50" y2="507.40" stroke-width="2.52"/>
<line x1="2404.00" y1="294.20" x2="2418.50" y2="294.20" stroke-width="2.52"/>
<line x1="2404.00" y1="81.00" x2="2418.50" y2="81.00" stroke-width="2.52"/>
</g>
<g>
<text transform="translate(566.09,143.38) scale(1.2342,1)" font-size="32.69" text-anchor="middle" fill="#ffffff" fill-opacity="0.9">1</text>
<text transform="translate(724.27,143.38) scale(1.2342,1)" font-size="32.69" text-anchor="middle" fill="#262626" fill-opacity="0.9">0.21</text>
<text transform="translate(882.45,143.38) scale(1.2342,1)" font-size="32.69" text-anchor="middle" fill="#262626" fill-opacity="0.9">0.37</text>
<text transform="translate(1040.64,143.38) scale(1.2342,1)" font-size="32.69" text-anchor="middle" fill="#ffffff" fill-opacity="0.9">-0.079</text>
<text transform="translate(1198.82,143.38) scale(1.2342,1)" font-size="32.69" text-anchor="middle" fill="#ffffff" fill-opacity="0.9">-0.0085</text>
<text transform="translate(1357.00,143.38) scale(1.2342,1)" font-size="32.69" text-anchor="middle" fill="#ffffff" fill-opacity="0.9">0.013</text>
<text transform="translate(1515.18,143.38) scale(1.2342,1)" font-size="32.69" text-anchor="middle" fill="#ffffff" fill-opacity="0.9">0.0064</text>
<text transform="translate(1673.36,143.38) scale(1.2342,1)" font-size="32.69" text-anchor="middle" fill="#ffffff" fill-opacity="0.9">-0.0086</text>
<text transform="translate(1831.55,143.38) scale(1.2342,1)" font-size="32.69" text-anchor="middle" fill="#ffffff" fill-opacity="0.9">-0.0095</text>
<text transform="translate(1989.73,143.38) scale(1.2342,1)" font-size="32.69" text-anchor="middle" fill="#ffffff" fill-opacity="0.9">-0.066</text>
<text transform="translate(2147.91,143.38) scale(1.2342,1)" font-size="32.69" text-anchor="middle" fill="#ffffff" fill-opacity="0.9">-0.0034</text>
<text transform="translate(566.09,250.53) scale(1.2342,1)" font-size="32.69" text-anchor="middle" fill="#262626" fill-opacity="0.9">0.21</text>
<text transform="translate(724.27,250.53) scale(1.2342,1)" font-size="32.69" text-anchor="middle" fill="#ffffff" fill-opacity="0.9">1</text>
<text transform="translate(882.45,250.53) scale(1.2342,1)" font-size="32.69" text-anchor="middle" fill="#ffffff" fill-opacity="0.9">0.13</text>
<text transform="translate(1040.64,250.53) scale(1.2342,1)" font-size="32.69" text-anchor="middle" fill="#ffffff" fill-opacity="0.9">0.013</text>
<text transform="translate(1198.82,250.53) scale(1.2342,1)" font-size="32.69" text-anchor="middle" fill="#ffffff" fill-opacity="0.9">0.0039</text>
<text transform="translate(1357.00,250.53) scale(1.2342,1)" font-size="32.69" text-anchor="middle" fill="#ffffff" fill-opacity="0.9">0.018</text>
<text transform="translate(1515.18,250.53) scale(1.2342,1)" font-size="32.69" text-anchor="middle" fill="#ffffff" fill-opacity="0.9">0.0074</text>
<text transform="translate(1673.36,250.53) scale(1.2342,1)" font-size="32.69" text-anchor="middle" fill="#ffffff" fill-opacity="0.9">0.0042</text>
<text transform="translate(1831.55,250.53) scale(1.2342,1)" font-size="32.69" text-anchor="middle" fill="#ffffff" fill-opacity="0.9">0.0046</text>
<text transform="translate(1989.73,250.53) scale(1.2342,1)" font-size="32.69" text-anchor="middle" fill="#ffffff" fill-opacity="0.9">0.0051</text>
<text transform="translate(2147.91,250.53) scale(1.2342,1)" font-size="32.69" text-anchor="middle" fill="#ffffff" fill-opacity="0.9">0.021</text>
<text transform="translate(566.09,357.69) scale(1.2342,1)" font-size="32.69" text-anchor="middle" fill="#262626" fill-opacity="0.9">0.37</text>
<text transform="translate(724.27,357.69) scale(1.2342,1)" font-size="32.69" text-anchor="middle" fill="#ffffff" fill-opacity="0.9">0.13</text>
<text transform="translate(882.45,357.69) scale(1.2342,1)" font-size="32.69" text-anchor="middle" fill="#ffffff" fill-opacity="0.9">1</text>
<text transform="translate(1040.64,357.69) scale(1.2342,1)" font-size="32.69" text-anchor="middle" fill="#ffffff" fill-opacity="0.9">0.01</text>
<text transform="translate(1198.82,357.69) scale(1.2342,1)" font-size="32.69" text-anchor="middle" fill="#ffffff" fill-opacity="0.9">0.015</text>
<text transform="translate(1357.00,357.69) scale(1.2342,1)" font-size="32.69" text-anchor="middle" fill="#ffffff" fill-opacity="0.9">-0.067</text>
<text transform="translate(1515.18,357.69) scale(1.2342,1)" font-size="32.69" text-anchor="middle" fill="#ffffff" fill-opacity="0.9">0.0029</text>
<text transform="translate(1673.36,357.69) scale(1.2342,1)" font-size="32.69" text-anchor="middle" fill="#ffffff" fill-opacity="0.9">0.00084</text>
<text transform="translate(1831.55,357.69) scale(1.2342,1)" font-size="32.69" text-anchor="middle" fill="#ffffff" fill-opacity="0.9">0.0033</text>
<text transform="translate(1989.73,357.69) scale(1.2342,1)" font-size="32.69" text-anchor="middle" fill="#ffffff" fill-opacity="0.9">-0.11</text>
<text transform="translate(2147.91,357.69) scale(1.2342,1)" font-size="32.69" text-anchor="middle" fill="#ffffff" fill-opacity="0.9">-0.074</text>
<text transform="translate(566.09,464.84) scale(1.2342,1)" font-size="32.69" text-anchor="middle" fill="#ffffff" fill-opacity="0.9">-0.079</text>
<text transform="translate(724.27,464.84) scale(1.2342,1)" font-size="32.69" text-anchor="middle" fill="#ffffff" fill-opacity="0.9">0.013</text>
<text transform="translate(882.45,464.84) scale(1.2342,1)" font-size="32.69" text-anchor="middle" fill="#ffffff" fill-opacity="0.9">0.01</text>
<text transform="translate(1040.64,464.84) scale(1.2342,1)" font-size="32.69" text-anchor="middle" fill="#ffffff" fill-opacity="0.9">1</text>
<text transform="translate(1198.82,464.84) scale(1.2342,1)" font-size="32.69" text-anchor="middle" fill="#262626" fill-opacity="0.9">0.18</text>
<text transform="translate(1357.00,464.84) scale(1.2342,1)" font-size="32.69" text-anchor="middle" fill="#262626" fill-opacity="0.9">0.19</text>
<text transform="translate(1515.18,464.84) scale(1.2342,1)" font-size="32.69" text-anchor="middle" fill="#ffffff" fill-opacity="0.9">-0.0066</text>
<text transform="translate(1673.36,464.84) scale(1.2342,1)" font-size="32.69" text-anchor="middle" fill="#262626" fill-opacity="0.9">0.52</text>
<text transform="translate(1831.55,464.84) scale(1.2342,1)" font-size="32.69" text-anchor="middle" fill="#262626" fill-opacity="0.9">0.52</text>
<text transform="translate(1989.73,464.84) scale(1.2342,1)" font-size="32.69" text-anchor="middle" fill="#262626" fill-opacity="0.9">0.18</text>
<text transform="translate(2147.91,464.84) scale(1.2342,1)" font-size="32.69" text-anchor="middle" fill="#262626" fill-opacity="0.9">0.19</text>
<text transform="translate(566.09,572.00) scale(1.2342,1)" font-size="32.69" text-anchor="middle" fill="#ffffff" fill-opacity="0.9">-0.0085</text>
<text transform="translate(724.27,572.00) scale(1.2342,1)" font-size="32.69" text-anchor="middle" fill="#ffffff" fill-opacity="0.9">0.0039</text>
<text transform="translate(882.45,572.00) scale(1.2342,1)" font-size="32.69" text-anchor="middle" fill="#ffffff" fill-opacity="0.9">0.015</text>
<text transform="translate(1040.64,572.00) scale(1.2342,1)" font-size="32.69" text-anchor="middle" fill="#262626" fill-opacity="0.9">0.18</text>
<text transform="translate(1198.82,572.00) scale(1.2342,1)" font-size="32.69" text-anchor="middle" fill="#ffffff" fill-opacity="0.9">1</text>
<text transform="translate(1357.00,572.00) scale(1.2342,1)" font-size="32.69" text-anchor="middle" fill="#ffffff" fill-opacity="0.9">-0.00068</text>
<text transform="translate(1515.18,572.00) scale(1.2342,1)" font-size="32.69" text-anchor="middle" fill="#ffffff" fill-opacity="0.9">-0.004</text>
<text transform="translate(1673.36,572.00) scale(1.2342,1)" font-size="32.69" text-anchor="middle" fill="#262626" fill-opacity="0.9">0.27</text>
<text transform="translate(1831.55,572.00) scale(1.2342,1)" font-size="32.69" text-anchor="middle" fill="#262626" fill-opacity="0.9">0.42</text>
<text transform="translate(1989.73,572.00) scale(1.2342,1)" font-size="32.69" text-anchor="middle" fill="#ffffff" fill-opacity="0.9">-0.0014</text>
<text transform="translate(2147.91,572.00) scale(1.2342,1)" font-size="32.69" text-anchor="middle" fill="#ffffff" fill-opacity="0.9">-0.00081</text>
<text transform="translate(566.09,679.15) scale(1.2342,1)" font-size="32.69" text-anchor="middle" fill="#ffffff" fill-opacity="0.9">0.013</text>
<text transform="translate(724.27,679.15) scale(1.2342,1)" font-size="32.69" text-anchor="middle" fill="#ffffff" fill-opacity="0.9">0.018</text>
<text transform="translate(882.45,679.15) scale(1.2342,1)" font-size="32.69" text-anchor="middle" fill="#ffffff" fill-opacity="0.9">-0.067</text>
<text transform="translate(1040.64,679.15) scale(1.2342,1)" font-size="32.69" text-anchor="middle" fill="#262626" fill-opacity="0.9">0.19</text>
<text transform="translate(1198.82,679.15) scale(1.2342,1)" font-size="32.69" text-anchor="middle" fill="#ffffff" fill-opacity="0.9">-0.00068</text>
<text transform="translate(1357.00,679.15) scale(1.2342,1)" font-size="32.69" text-anchor="middle" fill="#ffffff" fill-opacity="0.9">1</text>
<text transform="translate(1515.18,679.15) scale(1.2342,1)" font-size="32.69" text-anchor="middle" fill="#ffffff" fill-opacity="0.9">-0.0013</text>
<text transform="translate(1673.36,679.15) scale(1.2342,1)" font-size="32.69" text-anchor="middle" fill="#ffffff" fill-opacity="0.9">-0.00064</text>
<text transform="translate(1831.55,679.15) scale(1.2342,1)" font-size="32.69" text-anchor="middle" fill="#ffffff" fill-opacity="0.9">-0.0007</text>
<text transform="translate(1989.73,679.15) scale(1.2342,1)" font-size="32.69" text-anchor="middle" fill="#ffffff" fill-opacity="0.9">0.74</text>
<text transform="translate(2147.91,679.15) scale(1.2342,1)" font-size="32.69" text-anchor="middle" fill="#ffffff" fill-opacity="0.9">0.94</text>
<text transform="translate(566.09,786.31) scale(1.2342,1)" font-size="32.69" text-anchor="middle" fill="#ffffff" fill-opacity="0.9">0.0064</text>
<text transform="translate(724.27,786.31) scale(1.2342,1)" font-size="32.69" text-anchor="middle" fill="#ffffff" fill-opacity="0.9">0.0074</text>
<text transform="translate(882.45,786.31) scale(1.2342,1)" font-size="32.69" text-anchor="middle" fill="#ffffff" fill-opacity="0.9">0.0029</text>
<text transform="translate(1040.64,786.31) scale(1.2342,1)" font-size="32.69" text-anchor="middle" fill="#ffffff" fill-opacity="0.9">-0.0066</text>
<text transform="translate(1198.82,786.31) scale(1.2342,1)" font-size="32.69" text-anchor="middle" fill="#ffffff" fill-opacity="0.9">-0.004</text>
<text transform="translate(1357.00,786.31) scale(1.2342,1)" font-size="32.69" text-anchor="middle" fill="#ffffff" fill-opacity="0.9">-0.0013</text>
<text transform="translate(1515.18,786.31) scale(1.2342,1)" font-size="32.69" text-anchor="middle" fill="#ffffff" fill-opacity="0.9">1</text>
<text transform="translate(1673.36,786.31) scale(1.2342,1)" font-size="32.69" text-anchor="middle" fill="#ffffff" fill-opacity="0.9">-0.0053</text>
<text transform="translate(1831.55,786.31) scale(1.2342,1)" font-size="32.69" text-anchor="middle" fill="#ffffff" fill-opacity="0.9">-0.0056</text>
<text transform="translate(1989.73,786.31) scale(1.2342,1)" font-size="32.69" text-anchor="middle" fill="#ffffff" fill-opacity="0.9">0.0013</text>
<text transform="translate(2147.91,786.31) scale(1.2342,1)" font-size="32.69" text-anchor="middle" fill="#ffffff" fill-opacity="0.9">0.0004</text>
<text transform="translate(566.09,893.46) scale(1.2342,1)" font-size="32.69" text-anchor="middle" fill="#ffffff" fill-opacity="0.9">-0.0086</text>
<text transform="translate(724.27,893.46) scale(1.2342,1)" font-size="32.69" text-anchor="middle" fill="#ffffff" fill-opacity="0.9">0.0042</text>
<text transform="translate(882.45,893.46) scale(1.2342,1)" font-size="32.69" text-anchor="middle" fill="#ffffff" fill-opacity="0.9">0.00084</text>
<text transform="translate(1040.64,893.46) scale(1.2342,1)" font-size="32.69" text-anchor="middle" fill="#262626" fill-opacity="0.9">0.52</text>
<text transform="translate(1198.82,893.46) scale(1.2342,1)" font-size="32.69" text-anchor="middle" fill="#262626" fill-opacity="0.9">0.27</text>
<text transform="translate(1357.00,893.46) scale(1.2342,1)" font-size="32.69" text-anchor="middle" fill="#ffffff" fill-opacity="0.9">-0.00064</text>
<text transform="translate(1515.18,893.46) scale(1.2342,1)" font-size="32.69" text-anchor="middle" fill="#ffffff" fill-opacity="0.9">-0.0053</text>
<text transform="translate(1673.36,893.46) scale(1.2342,1)" font-size="32.69" text-anchor="middle" fill="#ffffff" fill-opacity="0.9">1</text>
<text transform="translate(1831.55,893.46) scale(1.2342,1)" font-size="32.69" text-anchor="middle" fill="#ffffff" fill-opacity="0.9">0.99</text>
<text transform="translate(1989.73,893.46) scale(1.2342,1)" font-size="32.69" text-anchor="middle" fill="#ffffff" fill-opacity="0.9">-0.0012</text>
<text transform="translate(2147.91,893.46) scale(1.2342,1)" font-size="32.69" text-anchor="middle" fill="#ffffff" fill-opacity="0.9">-0.00073</text>
<text transform="translate(566.09,1000.62) scale(1.2342,1)" font-size="32.69" text-anchor="middle" fill="#ffffff" fill-opacity="0.9">-0.0095</text>
<text transform="translate(724.27,1000.62) scale(1.2342,1)" font-size="32.69" text-anchor="middle" fill="#ffffff" fill-opacity="0.9">0.0046</text>
<text transform="translate(882.45,1000.62) scale(1.2342,1)" font-size="32.69" text-anchor="middle" fill="#ffffff" fill-opacity="0.9">0.0033</text>
<text transform="translate(1040.64,1000.62) scale(1.2342,1)" font-size="32.69" text-anchor="middle" fill="#262626" fill-opacity="0.9">0.52</text>
<text transform="translate(1198.82,1000.62) scale(1.2342,1)" font-size="32.69" text-anchor="middle" fill="#262626" fill-opacity="0.9">0.42</text>
<text transform="translate(1357.00,1000.62) scale(1.2342,1)" font-size="32.69" text-anchor="middle" fill="#ffffff" fill-opacity="0.9">-0.0007</text>
<text transform="translate(1515.18,1000.62) scale(1.2342,1)" font-size="32.69" text-anchor="middle" fill="#ffffff" fill-opacity="0.9">-0.0056</text>
<text transform="translate(1673.36,1000.62) scale(1.2342,1)" font-size="32.69" text-anchor="middle" fill="#ffffff" fill-opacity="0.9">0.99</text>
<text transform="translate(1831.55,1000.62) scale(1.2342,1)" font-size="32.69" text-anchor="middle" fill="#ffffff" fill-opacity="0.9">1</text>
<text transform="translate(1989.73,1000.62) scale(1.2342,1)" font-size="32.69" text-anchor="middle" fill="#ffffff" fill-opacity="0.9">-0.0013</text>
<text transform="translate(2147.91,1000.62) scale(1.2342,1)" font-size="32.69" text-anchor="middle" fill="#ffffff" fill-opacity="0.9">-0.0008</text>
<text transform="translate(566.09,1107.77) scale(1.2342,1)" font-size="32.69" text-anchor="middle" fill="#ffffff" fill-opacity="0.9">-0.066</text>
<text transform="translate(724.27,1107.77) scale(1.2342,1)" font-size="32.69" text-anchor="middle" fill="#ffffff" fill-opacity="0.9">0.0051</text>
<text transform="translate(882.45,1107.77) scale(1.2342,1)" font-size="32.69" text-anchor="middle" fill="#ffffff" fill-opacity="0.9">-0.11</text>
<text transform="translate(1040.64,1107.77) scale(1.2342,1)" font-size="32.69" text-anchor="middle" fill="#262626" fill-opacity="0.9">0.18</text>
<text transform="translate(1198.82,1107.77) scale(1.2342,1)" font-size="32.69" text-anchor="middle" fill="#ffffff" fill-opacity="0.9">-0.0014</text>
<text transform="translate(1357.00,1107.77) scale(1.2342,1)" font-size="32.69" text-anchor="middle" fill="#ffffff" fill-opacity="0.9">0.74</text>
<text transform="translate(1515.18,1107.77) scale(1.2342,1)" font-size="32.69" text-anchor="middle" fill="#ffffff" fill-opacity="0.9">0.0013</text>
<text transform="translate(1673.36,1107.77) scale(1.2342,1)" font-size="32.69" text-anchor="middle" fill="#ffffff" fill-opacity="0.9">-0.0012</text>
<text transform="translate(1831.55,1107.77) scale(1.2342,1)" font-size="32.69" text-anchor="middle" fill="#ffffff" fill-opacity="0.9">-0.0013</text>
<text transform="translate(1989.73,1107.77) scale(1.2342,1)" font-size="32.69" text-anchor="middle" fill="#ffffff" fill-opacity="0.9">1</text>
<text transform="translate(2147.91,1107.77) scale(1.2342,1)" font-size="32.69" text-anchor="middle" fill="#ffffff" fill-opacity="0.9">0.91</text>
<text transform="translate(566.09,1214.92) scale(1.2342,1)" font-size="32.69" text-anchor="middle" fill="#ffffff" fill-opacity="0.9">-0.0034</text>
<text transform="translate(724.27,1214.92) scale(1.2342,1)" font-size="32.69" text-anchor="middle" fill="#ffffff" fill-opacity="0.9">0.021</text>
<text transform="translate(882.45,1214.92) scale(1.2342,1)" font-size="32.69" text-anchor="middle" fill="#ffffff" fill-opacity="0.9">-0.074</text>
<text transform="translate(1040.64,1214.92) scale(1.2342,1)" font-size="32.69" text-anchor="middle" fill="#262626" fill-opacity="0.9">0.19</text>
<text transform="translate(1198.82,1214.92) scale(1.2342,1)" font-size="32.69" text-anchor="middle" fill="#ffffff" fill-opacity="0.9">-0.00081</text>
<text transform="translate(1357.00,1214.92) scale(1.2342,1)" font-size="32.69" text-anchor="middle" fill="#ffffff" fill-opacity="0.9">0.94</text>
<text transform="translate(1515.18,1214.92) scale(1.2342,1)" font-size="32.69" text-anchor="middle" fill="#ffffff" fill-opacity="0.9">0.0004</text>
<text transform="translate(1673.36,1214.92) scale(1.2342,1)" font-size="32.69" text-anchor="middle" fill="#ffffff" fill-opacity="0.9">-0.00073</text>
<text transform="translate(1831.55,1214.92) scale(1.2342,1)" font-size="32.69" text-anchor="middle" fill="#ffffff" fill-opacity="0.9">-0.0008</text>
<text transform="translate(1989.73,1214.92) scale(1.2342,1)" font-size="32.69" text-anchor="middle" fill="#ffffff" fill-opacity="0.9">0.91</text>
<text transform="translate(2147.91,1214.92) scale(1.2342,1)" font-size="32.69" text-anchor="middle" fill="#ffffff" fill-opacity="0.9">1</text>
<text transform="translate(584.46,1286.30) scale(1.2222,1) rotate(-90) scale(1.018,1)" font-size="53.15" text-anchor="end" fill="#000000">ID</text>
<text transform="translate(741.01,1286.30) scale(1.2222,1) rotate(-90) scale(1.018,1)" font-size="53.15" text-anchor="end" fill="#000000">id.orig_p</text>
<text transform="translate(899.20,1286.30) scale(1.2222,1) rotate(-90) scale(1.018,1)" font-size="53.15" text-anchor="end" fill="#000000">id.resp_p</text>
<text transform="translate(1059.00,1286.30) scale(1.2222,1) rotate(-90) scale(1.018,1)" font-size="53.15" text-anchor="end" fill="#000000">duration</text>
<text transform="translate(1215.56,1286.30) scale(1.2222,1) rotate(-90) scale(1.018,1)" font-size="53.15" text-anchor="end" fill="#000000">orig_bytes</text>
<text transform="translate(1373.74,1286.30) scale(1.2222,1) rotate(-90) scale(1.018,1)" font-size="53.15" text-anchor="end" fill="#000000">resp_bytes</text>
<text transform="translate(1531.92,1286.30) scale(1.2222,1) rotate(-90) scale(1.018,1)" font-size="53.15" text-anchor="end" fill="#000000">missed_bytes</text>
<text transform="translate(1690.10,1286.30) scale(1.2222,1) rotate(-90) scale(1.018,1)" font-size="53.15" text-anchor="end" fill="#000000">orig_pkts</text>
<text transform="translate(1848.29,1286.30) scale(1.2222,1) rotate(-90) scale(1.018,1)" font-size="53.15" text-anchor="end" fill="#000000">orig_ip_bytes</text>
<text transform="translate(2006.47,1286.30) scale(1.2222,1) rotate(-90) scale(1.018,1)" font-size="53.15" text-anchor="end" fill="#000000">resp_pkts</text>
<text transform="translate(2164.65,1286.30) scale(1.2222,1) rotate(-90) scale(1.018,1)" font-size="53.15" text-anchor="end" fill="#000000">resp_ip_bytes</text>
<text transform="translate(463.26,149.19) scale(1.2222,1)" font-size="53.15" text-anchor="end" fill="#000000">ID</text>
<text transform="translate(463.26,255.02) scale(1.2222,1)" font-size="53.15" text-anchor="end" fill="#000000">id.orig_p</text>
<text transform="translate(463.26,362.17) scale(1.2222,1)" font-size="53.15" text-anchor="end" fill="#000000">id.resp_p</text>
<text transform="translate(463.26,470.66) scale(1.2222,1)" font-size="53.15" text-anchor="end" fill="#000000">duration</text>
<text transform="translate(463.26,576.48) scale(1.2222,1)" font-size="53.15" text-anchor="end" fill="#000000">orig_bytes</text>
<text transform="translate(463.26,683.64) scale(1.2222,1)" font-size="53.15" text-anchor="end" fill="#000000">resp_bytes</text>
<text transform="translate(463.26,790.79) scale(1.2222,1)" font-size="53.15" text-anchor="end" fill="#000000">missed_bytes</text>
<text transform="translate(463.26,897.95) scale(1.2222,1)" font-size="53.15" text-anchor="end" fill="#000000">orig_pkts</text>
<text transform="translate(463.26,1005.10) scale(1.2222,1)" font-size="53.15" text-anchor="end" fill="#000000">orig_ip_bytes</text>
<text transform="translate(463.26,1112.26) scale(1.2222,1)" font-size="53.15" text-anchor="end" fill="#000000">resp_pkts</text>
<text transform="translate(463.26,1219.41) scale(1.2222,1)" font-size="53.15" text-anchor="end" fill="#000000">resp_ip_bytes</text>
<text transform="translate(1355.00,64.05) scale(1.2283,1)" font-size="53.15" text-anchor="middle" fill="#000000">Correlation Heatmap</text>
<text transform="translate(2429.24,1156.98) scale(1.0509,1)" font-size="28.44" text-anchor="start" fill="#000000">0.0</text>
<text transform="translate(2429.24,943.78) scale(1.0509,1)" font-size="28.44" text-anchor="start" fill="#000000">0.2</text>
<text transform="translate(2429.24,730.57) scale(1.0509,1)" font-size="28.44" text-anchor="start" fill="#000000">0.4</text>
<text transform="translate(2429.24,517.37) scale(1.0509,1)" font-size="28.44" text-anchor="start" fill="#000000">0.6</text>
<text transform="translate(2429.24,304.17) scale(1.0509,1)" font-size="28.44" text-anchor="start" fill="#000000">0.8</text>
<text transform="translate(2429.24,90.97) scale(1.0509,1)" font-size="28.44" text-anchor="start" fill="#000000">1.0</text>
</g>
</g>
</svg>
</body></html>
